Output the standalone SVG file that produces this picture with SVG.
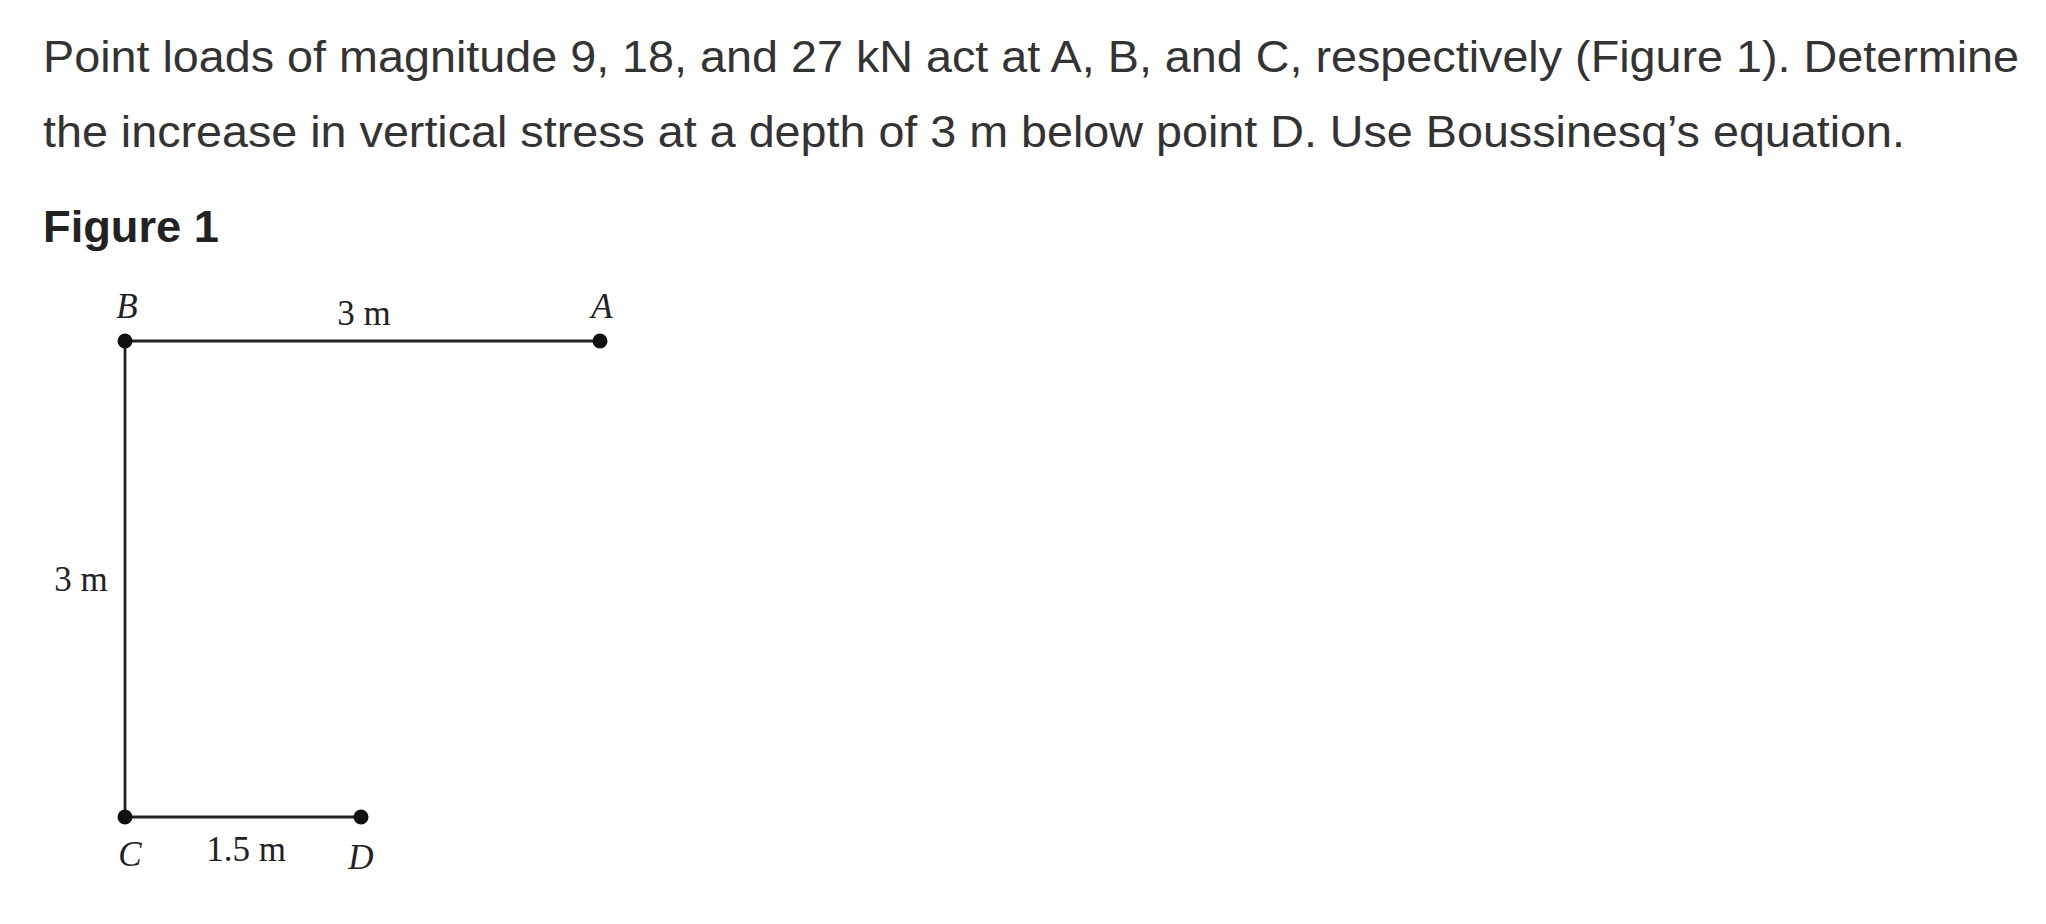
<svg xmlns="http://www.w3.org/2000/svg" width="2046" height="924" viewBox="0 0 2046 924">
<style>
.body{font-family:"Liberation Sans",Arial,sans-serif;font-size:45px;fill:#333}
.bold{font-family:"Liberation Sans",Arial,sans-serif;font-size:45px;font-weight:bold;fill:#222}
.lbl{font-family:"Liberation Serif","Times New Roman",serif;font-size:35px;fill:#222;text-anchor:middle}
.it{font-style:italic}
.edge{stroke:#222;stroke-width:2.8;fill:none}
.dot{fill:#111}
</style>
<rect width="2046" height="924" fill="#fff"/>
<text class="body" x="43" y="72" textLength="1976" lengthAdjust="spacingAndGlyphs">Point loads of magnitude 9, 18, and 27 kN act at A, B, and C, respectively (Figure 1). Determine</text>
<text class="body" x="43" y="147" textLength="1862" lengthAdjust="spacingAndGlyphs">the increase in vertical stress at a depth of 3 m below point D. Use Boussinesq’s equation.</text>
<text class="bold" x="43" y="242" textLength="176" lengthAdjust="spacingAndGlyphs">Figure 1</text>
<g id="connectors">
<line class="edge" x1="125" y1="341" x2="600" y2="341"/>
<line class="edge" x1="125" y1="341" x2="125" y2="817"/>
<line class="edge" x1="125" y1="817" x2="361" y2="817"/>
<text class="lbl" x="364" y="325">3 m</text>
<text class="lbl" x="81" y="591">3 m</text>
<text class="lbl" x="246" y="861">1.5 m</text>
</g>
<g id="node-B"><circle class="dot" cx="125" cy="341" r="7.5"/><text class="lbl it" x="127" y="318">B</text></g>
<g id="node-A"><circle class="dot" cx="600" cy="341" r="7.5"/><text class="lbl it" x="602" y="318">A</text></g>
<g id="node-C"><circle class="dot" cx="125" cy="817" r="7.5"/><text class="lbl it" x="130" y="866">C</text></g>
<g id="node-D"><circle class="dot" cx="361" cy="817" r="7.5"/><text class="lbl it" x="361" y="869">D</text></g>
</svg>
